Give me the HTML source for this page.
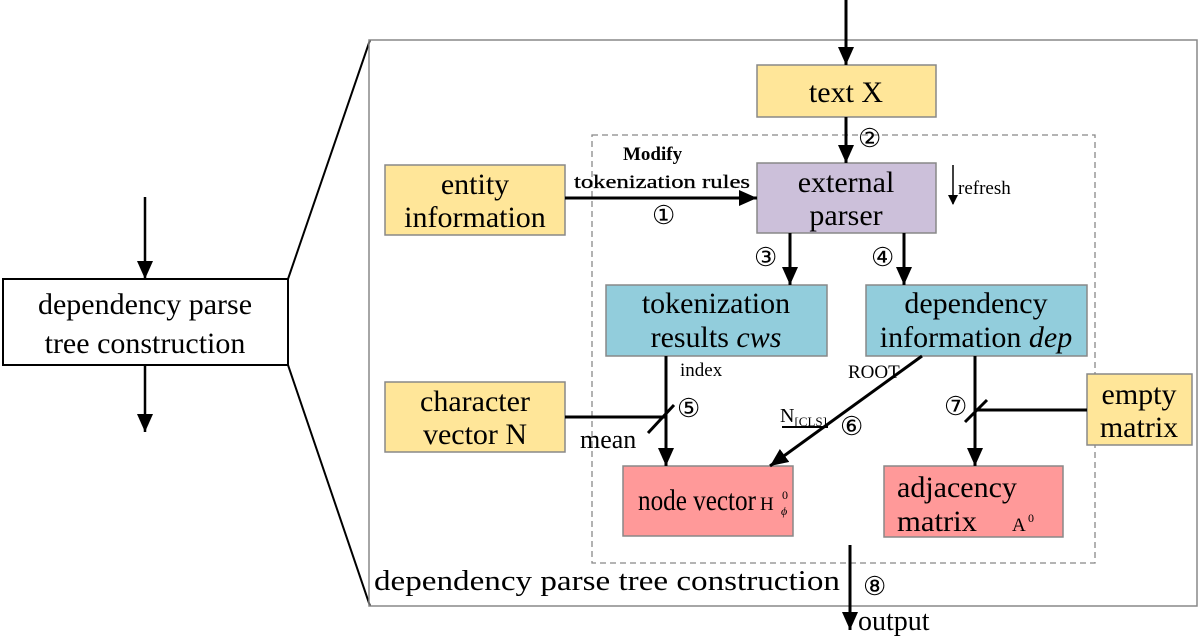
<!DOCTYPE html>
<html><head><meta charset="utf-8"><style>
html,body{margin:0;padding:0;background:#fff;width:1200px;height:636px;overflow:hidden}
text{font-family:"Liberation Serif",serif;fill:#000}
</style></head><body>
<svg width="1200" height="636" viewBox="0 0 1200 636" xmlns="http://www.w3.org/2000/svg">
<defs><marker id="a" markerWidth="10" markerHeight="10" refX="9" refY="5" orient="auto" markerUnits="userSpaceOnUse"><path d="M0,0 L10,5 L0,10 z" fill="#000"/></marker>
<marker id="b" markerWidth="20" markerHeight="16" refX="18" refY="8" orient="auto" markerUnits="userSpaceOnUse"><path d="M0,0 L18,8 L0,16 z" fill="#000"/></marker></defs>
<rect x="3" y="279" width="285" height="86" fill="#fff" stroke="#000" stroke-width="2"/>
<text x="145" y="314" font-size="30" text-anchor="middle">dependency parse</text>
<text x="145" y="353" font-size="30" text-anchor="middle">tree construction</text>
<line x1="145" y1="197" x2="145" y2="279" stroke="#000" stroke-width="2.5" marker-end="url(#b)"/>
<line x1="145" y1="365" x2="145" y2="432" stroke="#000" stroke-width="2.5" marker-end="url(#b)"/>
<line x1="288" y1="279" x2="370" y2="40" stroke="#000" stroke-width="2"/>
<line x1="288" y1="365" x2="370" y2="606" stroke="#000" stroke-width="2"/>
<rect x="369" y="40" width="828" height="566" fill="none" stroke="#888" stroke-width="1.5"/>
<rect x="592" y="135" width="503" height="428" fill="none" stroke="#888" stroke-width="1.3" stroke-dasharray="6,4"/>
<g stroke="#888" stroke-width="1.5">
<rect x="757" y="65" width="179" height="52" fill="#ffe699"/>
<rect x="385" y="165" width="180" height="70" fill="#ffe699"/>
<rect x="757" y="163" width="179" height="70" fill="#ccc0da"/>
<rect x="606" y="285" width="221" height="71" fill="#92cddc"/>
<rect x="866" y="285" width="221" height="71" fill="#92cddc"/>
<rect x="385" y="382" width="180" height="70" fill="#ffe699"/>
<rect x="1087" y="374" width="105" height="71" fill="#ffe699"/>
<rect x="623" y="466" width="170" height="70" fill="#ff9999"/>
<rect x="884" y="466" width="179" height="71" fill="#ff9999"/>
</g>
<g font-size="30" text-anchor="middle">
<text x="846" y="102">text X</text>
<text x="475" y="194">entity</text><text x="475" y="227">information</text>
<text x="846" y="192">external</text><text x="846" y="225">parser</text>
<text x="716" y="313">tokenization</text><text x="716" y="347">results <tspan font-style="italic">cws</tspan></text>
<text x="976" y="313">dependency</text><text x="976" y="347">information <tspan font-style="italic">dep</tspan></text>
<text x="475" y="411">character</text><text x="475" y="444">vector N</text>
<text x="1139" y="404">empty</text><text x="1139" y="437">matrix</text>
</g>
<g font-size="30">
<text x="638" y="510" textLength="118" lengthAdjust="spacingAndGlyphs">node vector</text>
<text x="897" y="497">adjacency</text>
<text x="897" y="531" textLength="80" lengthAdjust="spacingAndGlyphs">matrix</text>
</g>
<text x="760" y="510" font-size="19">H</text>
<text x="782" y="499" font-size="12">0</text><text x="781" y="515" font-size="12" font-style="italic">ϕ</text>
<text x="1012" y="531" font-size="19">A</text>
<text x="1028" y="522" font-size="12">0</text>
<g stroke="#000" stroke-width="3">
<line x1="846" y1="0" x2="846" y2="65" marker-end="url(#b)"/>
<line x1="846" y1="117" x2="846" y2="163" marker-end="url(#b)"/>
<line x1="565" y1="198" x2="757" y2="198" marker-end="url(#b)"/>
<line x1="790" y1="233" x2="790" y2="285" marker-end="url(#b)"/>
<line x1="904" y1="233" x2="904" y2="285" marker-end="url(#b)"/>
<line x1="666" y1="356" x2="666" y2="466" marker-end="url(#b)"/>
<line x1="565" y1="417" x2="666" y2="417"/>
<line x1="648" y1="433" x2="674" y2="405"/>
<line x1="922" y1="356" x2="770" y2="466" marker-end="url(#b)"/>
<line x1="975" y1="356" x2="975" y2="466" marker-end="url(#b)"/>
<line x1="1087" y1="410" x2="975" y2="410"/>
<line x1="965" y1="422" x2="987" y2="400"/>
<line x1="850" y1="545" x2="850" y2="630" marker-end="url(#b)"/>
</g>
<line x1="953" y1="165" x2="953" y2="204" stroke="#000" stroke-width="1.5" marker-end="url(#a)"/>
<line x1="782" y1="427" x2="828" y2="427" stroke="#000" stroke-width="2"/>
<g>
<text x="623" y="160" font-weight="bold" font-size="19">Modify</text>
<text x="574" y="188" font-size="19" textLength="176" lengthAdjust="spacingAndGlyphs" stroke="#000" stroke-width="0.3">tokenization rules</text>
<text x="958" y="194" font-size="19">refresh</text>
<text x="680" y="376" font-size="19">index</text>
<text x="848" y="378" font-size="19">ROOT</text>
<text x="580" y="448" font-size="26">mean</text>
<text x="780" y="422" font-size="20">N<tspan font-size="13" dy="4">[CLS]</tspan></text>
<text x="374" y="590" font-size="28" textLength="466" lengthAdjust="spacingAndGlyphs">dependency parse tree construction</text>
<text x="858" y="630" font-size="28">output</text>
</g>
<g font-size="26" font-family="DejaVu Sans, sans-serif" font-weight="normal">
<text x="652" y="224">①</text>
<text x="858" y="147">②</text>
<text x="754" y="266">③</text>
<text x="871" y="266">④</text>
<text x="677" y="417">⑤</text>
<text x="840" y="435">⑥</text>
<text x="944" y="415">⑦</text>
<text x="863" y="595">⑧</text>
</g>
</svg>
</body></html>
